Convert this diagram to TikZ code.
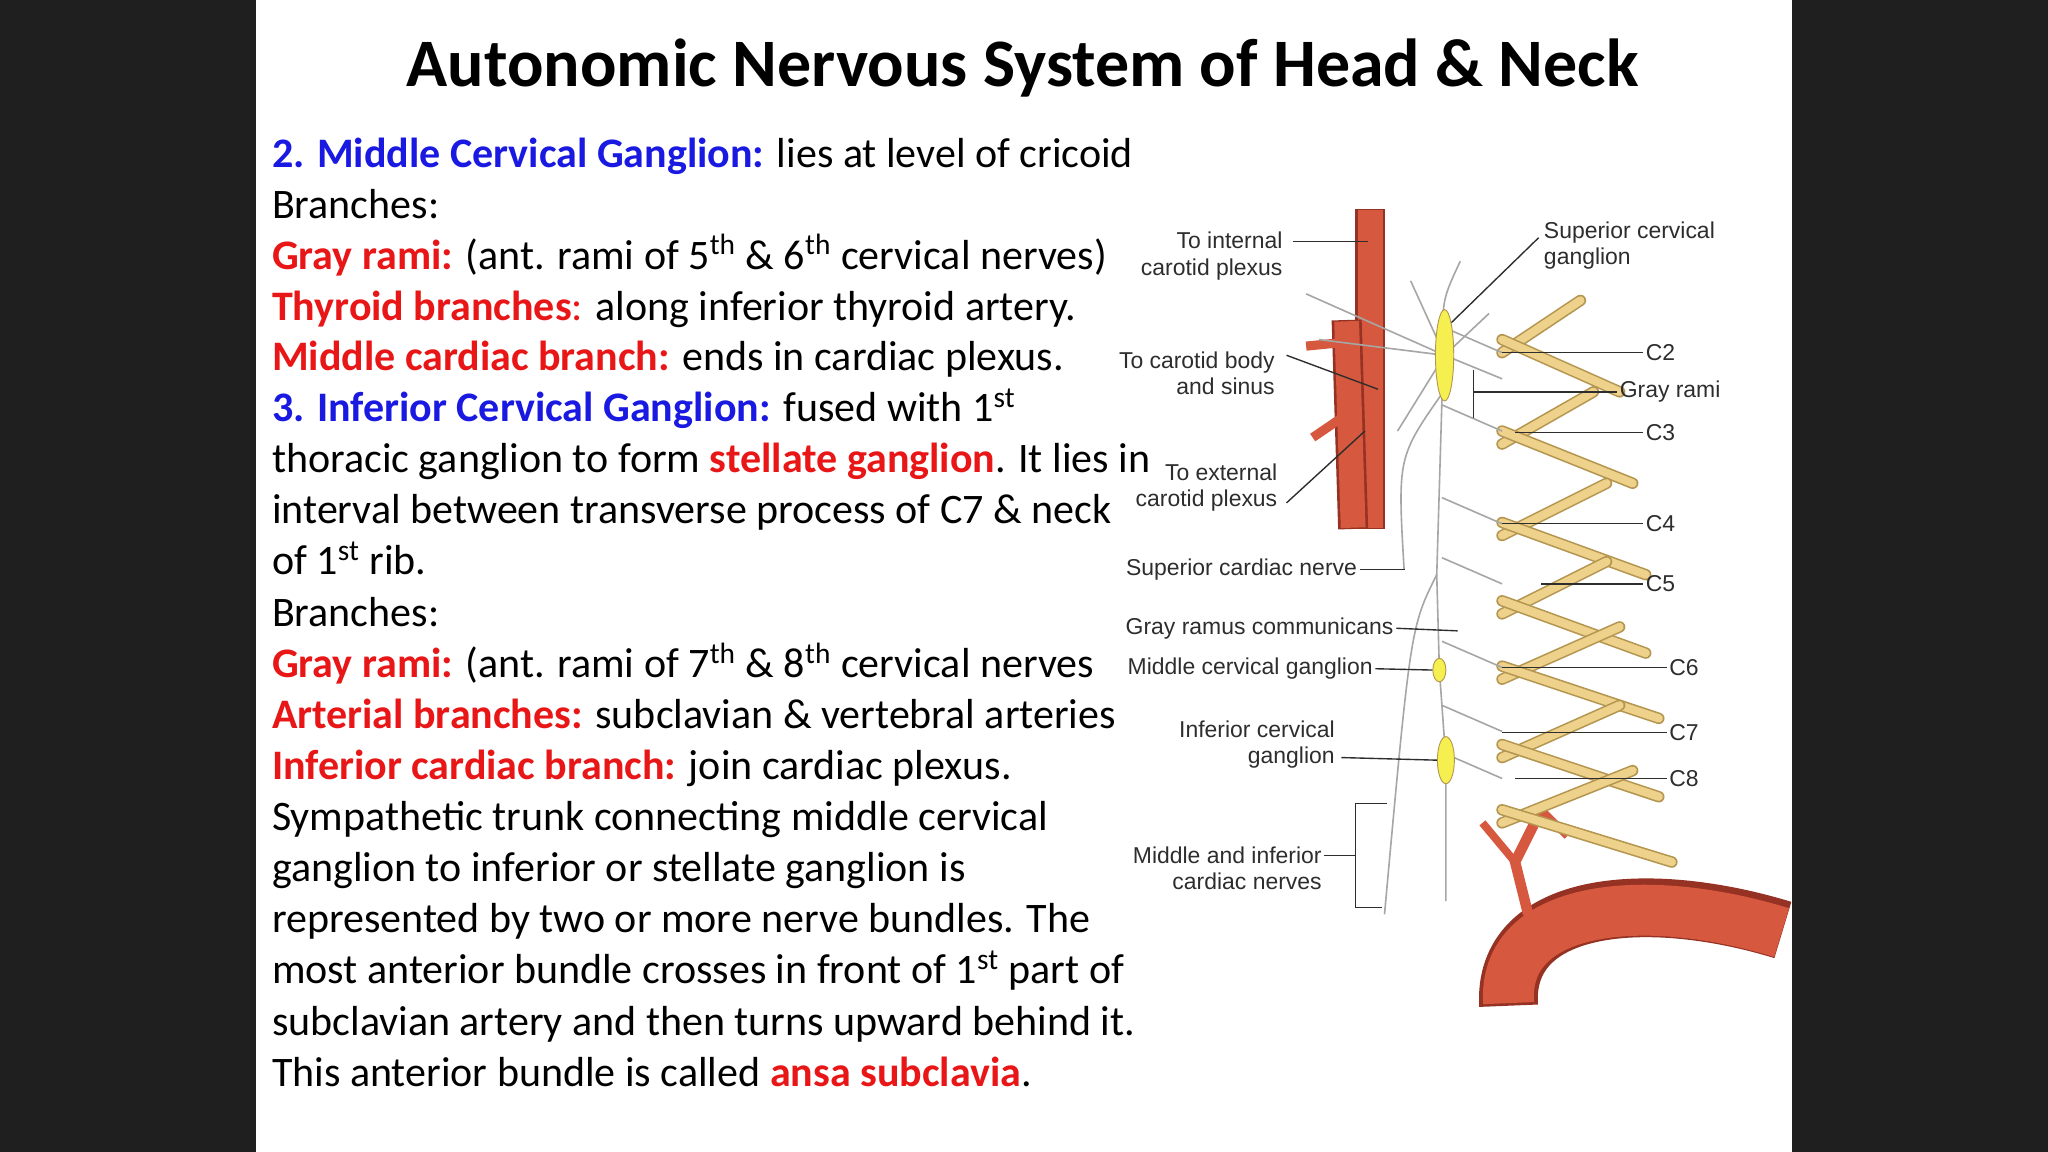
\documentclass[tikz,border=0pt]{standalone}
\usepackage{fontspec}
\usetikzlibrary{shapes.geometric}
\setmainfont{Carlito}
\newfontfamily\lab{Liberation Sans}
\definecolor{hb}{RGB}{25,25,225}
\definecolor{hr}{RGB}{232,22,22}
\definecolor{art}{RGB}{214,88,62}
\definecolor{artd}{RGB}{150,50,35}
\definecolor{nrv}{RGB}{238,210,140}
\definecolor{nrvd}{RGB}{180,150,80}
\definecolor{gang}{RGB}{245,240,80}
\definecolor{labc}{RGB}{45,45,45}
\newcommand{\B}[1]{\textcolor{hb}{\bfseries #1}}
\newcommand{\R}[1]{\textcolor{hr}{\bfseries #1}}
\begin{document}
\begin{tikzpicture}[x=0.02cm,y=-0.02cm,
  line/.style={anchor=base west,inner sep=0pt,font=\fontsize{18.3}{20}\selectfont},
  lbl/.style={font=\lab\fontsize{10}{11.4}\selectfont,text=labc,inner sep=1pt,align=right,anchor=east},
  lblr/.style={font=\lab\fontsize{10}{11.4}\selectfont,text=labc,inner sep=1pt,align=left,anchor=west},
  lead/.style={draw=labc,line width=0.6pt},
  nv/.style={draw=nrvd,line width=5pt,line cap=round},
  nvi/.style={draw=nrv,line width=3.6pt,line cap=round},
  sym/.style={draw=gray!70,line width=0.7pt},
  gg/.style={draw=nrvd,fill=gang,ellipse,inner sep=0}]
\fill[black!88] (0,0) rectangle (1568,882);
\fill[white] (196,0) rectangle (1372,882);
\useasboundingbox (0,0) rectangle (1568,882);
\node[font=\bfseries\fontsize{29.6}{34}\selectfont] (title) at (783,52) {Autonomic Nervous System of Head \& Neck};
\node[line] (l1) at (208,128) {\B{2. Middle Cervical Ganglion:} lies at level of cricoid};
\node[line] (l2) at (208,167) {Branches:};
\node[line] (l3) at (208,206) {\R{Gray rami:} (ant. rami of 5\textsuperscript{th} \& 6\textsuperscript{th} cervical nerves)};
\node[line] (l4) at (208,245) {\R{Thyroid branches}\textcolor{hr}{:} along inferior thyroid artery.};
\node[line] (l5) at (208,284) {\R{Middle cardiac branch:} ends in cardiac plexus.};
\node[line] (l6) at (208,323) {\B{3. Inferior Cervical Ganglion:} fused with 1\textsuperscript{st}};
\node[line] (l7) at (208,362) {thoracic ganglion to form \R{stellate ganglion}. It lies in};
\node[line] (l8) at (208,401) {interval between transverse process of C7 \& neck};
\node[line] (l9) at (208,440) {of 1\textsuperscript{st} rib.};
\node[line] (l10) at (208,480) {Branches:};
\node[line] (l11) at (208,519) {\R{Gray rami:} (ant. rami of 7\textsuperscript{th} \& 8\textsuperscript{th} cervical nerves};
\node[line] (l12) at (208,558) {\R{Arterial branches:} subclavian \& vertebral arteries};
\node[line] (l13) at (208,597) {\R{Inferior cardiac branch:} join cardiac plexus.};
\node[line] (l14) at (208,636) {Sympathetic trunk connecting middle cervical};
\node[line] (l15) at (208,675) {ganglion to inferior or stellate ganglion is};
\node[line] (l16) at (208,714) {represented by two or more nerve bundles. The};
\node[line] (l17) at (208,753) {most anterior bundle crosses in front of 1\textsuperscript{st} part of};
\node[line] (l18) at (208,793) {subclavian artery and then turns upward behind it.};
\node[line] (l19) at (208,832) {This anterior bundle is called \R{ansa subclavia}.};
% arteries
\draw[artd,line width=0.46cm] (1049,160) -- (1049,405);
\draw[art,line width=0.38cm] (1049,161) -- (1049,404);
\draw[artd,line width=0.46cm] (1031,245) -- (1036,405);
\draw[art,line width=0.38cm] (1031,246) -- (1036,404);
\draw[art,line width=0.14cm] (1000,265) -- (1030,262);
\draw[art,line width=0.14cm] (1005,335) -- (1030,318);
% subclavian
\draw[artd,line width=0.9cm] (1155,770) .. controls (1150,690) and (1260,680) .. (1365,712);
\draw[art,line width=0.78cm] (1155,768) .. controls (1150,692) and (1260,682) .. (1364,714);
\draw[art,line width=0.16cm] (1170,700) -- (1160,660) -- (1180,620);
\draw[art,line width=0.12cm] (1160,660) -- (1135,630);
\draw[art,line width=0.12cm] (1180,620) -- (1200,640);
% sympathetic trunk
\draw[sym] (1118,200) .. controls (1104,230) .. (1105,272) -- (1100,440) -- (1102,513) -- (1107,582) -- (1107,690);
\draw[sym] (1100,440) .. controls (1080,480) .. (1060,700);
\draw[sym] (1105,300) .. controls (1070,350) .. (1075,436);
\foreach \a/\b in {1000/225, 1010/260, 1070/330, 1080/215, 1140/240, 1150/290}
  \draw[sym] (1106,272) -- (\a,\b);
% spinal nerves
\foreach \y/\dx in {230/60,300/70,370/80,430/80,480/90,540/90,590/100} {
  \draw[nv] (1150,\y+40) -- (1150+\dx,\y) ;
  \draw[nvi] (1150,\y+40) -- (1150+\dx,\y);
  \draw[nv] (1150,\y+30) -- (1150+\dx+30,\y+70);
  \draw[nvi] (1150,\y+30) -- (1150+\dx+30,\y+70);
}
\foreach \y in {270,330,401,447,511,560,596}
  \draw[sym] (1104,\y-20) -- (1150,\y);
% ganglia
\node[gg,minimum width=0.28cm,minimum height=1.4cm] (scg) at (1106,272) {};
\node[gg,minimum width=0.2cm,minimum height=0.36cm] (mcg) at (1102,513) {};
\node[gg,minimum width=0.26cm,minimum height=0.72cm] (icg) at (1107,582) {};
% labels
\node[lbl] (t1) at (984,196) {To internal\\carotid plexus};
\coordinate (t1s) at (990,185); \coordinate (t1e) at (1047,185); \draw[lead] (t1s) -- (t1e);
\node[lblr] (t2) at (1180,188) {Superior cervical\\ganglion};
\coordinate (t2s) at (1178,182); \draw[lead] (t2s) -- (scg.north east);
\node[lbl] (t3) at (978,286) {To carotid body\\and sinus};
\coordinate (t3s) at (985,272); \coordinate (t3e) at (1055,298); \draw[lead] (t3s) -- (t3e);
\node[lbl] (t4) at (980,373) {To external\\carotid plexus};
\coordinate (t4s) at (985,385); \coordinate (t4e) at (1045,330); \draw[lead] (t4s) -- (t4e);
\node[lbl] (t5) at (1041,436) {Superior cardiac nerve};
\coordinate (t5e) at (1076,436); \draw[lead] (t5.east) -- (t5e);
\node[lbl] (t6) at (1069,481) {Gray ramus communicans};
\coordinate (t6e) at (1116,483); \draw[lead] (t6.east) -- (t6e);
\node[lbl] (t7) at (1053,512) {Middle cervical ganglion};
\draw[lead] (t7.east) -- (mcg.west);
\node[lbl] (t8) at (1024,570) {Inferior cervical\\ganglion};
\coordinate (t8s) at (1027,580); \draw[lead] (t8s) -- (icg.west);
\node[lbl] (t9) at (1014,665) {Middle and inferior\\cardiac nerves};
\coordinate (b0) at (1038,655);
\coordinate (b1) at (1038,615); \coordinate (b2) at (1038,695);
\coordinate (b1e) at (1062,615); \coordinate (b2e) at (1058,695);
\draw[lead] (t9.east |- b0) -- (b0);
\draw[lead] (b1e) -- (b1) -- (b2) -- (b2e);
\node[lblr] (g) at (1238,300) {Gray rami};
\coordinate (ga) at (1128,283); \coordinate (gb) at (1128,320); \coordinate (gc) at (1128,300);
\draw[lead] (ga) -- (gb); \draw[lead] (gc) -- (g.west);
\foreach \n/\x/\y/\s in {C2/1258/270/1150,C3/1258/331/1160,C4/1258/401/1150,C5/1258/447/1180,C6/1276/511/1150,C7/1276/561/1150,C8/1276/596/1160} {
  \node[lblr] (\n) at (\x,\y) {\n};
  \coordinate (\n s) at (\s,\y);
  \draw[lead] (\n s) -- (\n.west);
}
\end{tikzpicture}
\end{document}
